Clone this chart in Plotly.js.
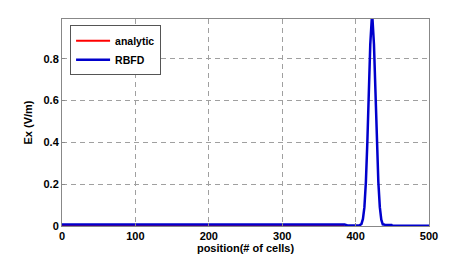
<!DOCTYPE html>
<html>
<head>
<meta charset="utf-8">
<script src="https://cdn.plot.ly/plotly-3.0.1.min.js"></script>
<style>html,body{margin:0;padding:0;background:#fff;}#chart{width:474px;height:255px;}</style>
</head>
<body>
<div id="chart"></div>
<script>
var analyticX = [0, 385];
var analyticY = [0, 0];
var rbfdX = [0, 385, 390, 405, 408, 410, 412, 414, 416, 418, 420, 422, 423, 425, 427, 429, 431, 433, 435, 437, 440, 449, 450, 500];
var rbfdY = [0.007, 0.007, 0.002, 0.002, 0.01, 0.034, 0.09, 0.21, 0.40, 0.64, 0.87, 0.99, 0.99, 0.87, 0.64, 0.40, 0.21, 0.09, 0.03, 0.008, 0.006, 0.005, 0.001, 0.001];
var xTicks = [0, 100, 200, 300, 400, 500];
var yTicks = [0, 0.2, 0.4, 0.6, 0.8];
var yTickText = ['0', '0.2', '0.4', '0.6', '0.8'];

var fontFam = '"Liberation Sans", Arial, sans-serif';
var traces = [
  {x: analyticX, y: analyticY, mode: 'lines', name: 'analytic', line: {color: '#ff0000', width: 2}},
  {x: rbfdX, y: rbfdY, mode: 'lines', name: 'RBFD', line: {color: '#0000cc', width: 2.5}}
];
var axisCommon = {
  showgrid: true, gridcolor: '#a0a0a0', griddash: '5px,4px', gridwidth: 1,
  showline: true, linecolor: '#888', linewidth: 1, mirror: true,
  zeroline: false, ticks: 'inside', ticklen: 3, tickcolor: '#888',
  tickfont: {family: fontFam, size: 11, color: '#000', weight: 'bold'}
};
var layout = {
  width: 474, height: 255,
  margin: {l: 62, r: 45, t: 19, b: 29},
  paper_bgcolor: '#fff', plot_bgcolor: '#fff',
  showlegend: true,
  legend: {x: 0.022, y: 0.97, xanchor: 'left', yanchor: 'top', bgcolor: '#fff', bordercolor: '#555', borderwidth: 1,
    font: {family: fontFam, size: 10.5, color: '#000', weight: 'bold'}, tracegroupgap: 0, itemwidth: 34},
  xaxis: Object.assign({}, axisCommon, {range: [0, 500], tickvals: xTicks, ticktext: xTicks.map(String),
    title: {text: 'position(# of cells)', standoff: 2, font: {family: fontFam, size: 11, color: '#000', weight: 'bold'}}}),
  yaxis: Object.assign({}, axisCommon, {range: [0, 0.99], tickvals: yTicks, ticktext: yTickText,
    title: {text: 'Ex (V/m)', standoff: 8, font: {family: fontFam, size: 11, color: '#000', weight: 'bold'}}})
};
Plotly.newPlot('chart', traces, layout, {displayModeBar: false, staticPlot: true});
</script>
</body>
</html>
